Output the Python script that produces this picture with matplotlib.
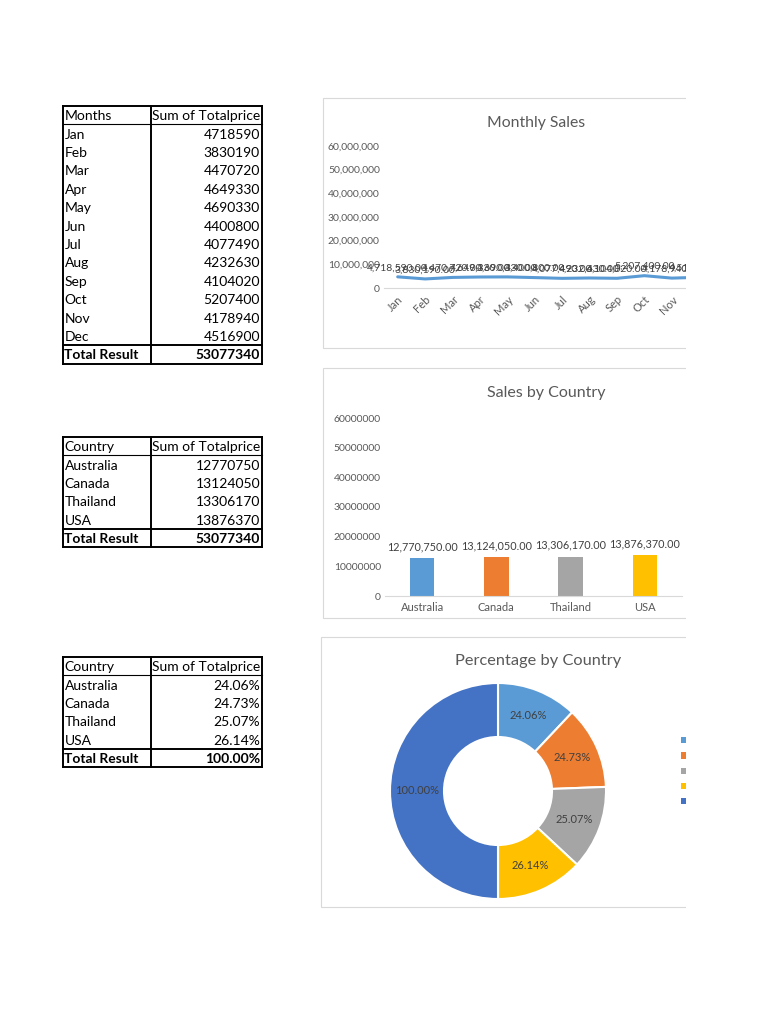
import math
import matplotlib
matplotlib.use('Agg')
import matplotlib.pyplot as plt
from matplotlib.patches import Rectangle
from matplotlib.lines import Line2D
from matplotlib.ticker import FuncFormatter

plt.rcParams['font.family'] = ['Lato', 'DejaVu Sans']

# data
months = ['Jan', 'Feb', 'Mar', 'Apr', 'May', 'Jun', 'Jul', 'Aug', 'Sep', 'Oct', 'Nov', 'Dec']
month_sales = [4718590, 3830190, 4470720, 4649330, 4690330, 4400800,
               4077490, 4232630, 4104020, 5207400, 4178940, 4516900]
month_total = 53077340
countries = ['Australia', 'Canada', 'Thailand', 'USA']
country_sales = [12770750, 13124050, 13306170, 13876370]
country_total = 53077340
country_pct = [24.06, 24.73, 25.07, 26.14]
pct_total = 100.00

bar_colors = ['#5B9BD5', '#ED7D31', '#A5A5A5', '#FFC000']
total_color = '#4472C4'
grey_txt = '#595959'
lab_txt = '#404040'

W, H = 768, 1024
fig = plt.figure(figsize=(W / 100, H / 100), dpi=100)


def fx(x):
    return x / W


def fy(y):
    return 1 - y / H


def hline(x0, x1, y, lw):
    fig.add_artist(Line2D([fx(x0), fx(x1)], [fy(y), fy(y)], color='black', lw=lw,
                          transform=fig.transFigure))


def vline(x, y0, y1, lw):
    fig.add_artist(Line2D([fx(x), fx(x)], [fy(y0), fy(y1)], color='black', lw=lw,
                          transform=fig.transFigure))


def draw_table(top, head, names, vals, total):
    rh = 18.4
    x0, xm, x1 = 63, 151, 262
    n = len(names) + 2
    bottom = top + n * rh
    hline(x0, x1, top, 1.4)
    hline(x0, x1, bottom, 1.4)
    vline(x0, top, bottom, 1.4)
    vline(x1, top, bottom, 1.4)
    vline(xm, top, bottom, 1.4)
    hline(x0, x1, top + rh, 0.8)
    hline(x0, x1, bottom - rh, 1.4)
    # header
    yc = top + 0.55 * rh
    fig.text(fx(x0 + 1.5), fy(yc), head, ha='left', va='center', fontsize=10)
    fig.text(fx(xm + 1.5), fy(yc), 'Sum of Totalprice', ha='left', va='center', fontsize=10)
    rows = [(a, b, 'normal') for a, b in zip(names, vals)]
    rows.append(('Total Result', total, 'bold'))
    for i, (a, b, w) in enumerate(rows, start=1):
        yc = top + (i + 0.55) * rh
        fig.text(fx(x0 + 1.5), fy(yc), a, ha='left', va='center', fontsize=10, weight=w)
        fig.text(fx(x1 - 2), fy(yc), b, ha='right', va='center', fontsize=10, weight=w)


def chart_box(x0, y0, y1):
    fig.add_artist(Rectangle((fx(x0), fy(y1)), fx(720) - fx(x0), (y1 - y0) / H, fill=False,
                             ec='#D9D9D9', lw=0.8, transform=fig.transFigure))


def style_axis(ax):
    for s in ['top', 'right', 'left']:
        ax.spines[s].set_visible(False)
    ax.spines['bottom'].set_color('#D9D9D9')
    ax.tick_params(length=0, labelsize=7.5, labelcolor=grey_txt)


# tables
draw_table(106, 'Months', months, [str(v) for v in month_sales], str(month_total))
draw_table(437, 'Country', countries, [str(v) for v in country_sales], str(country_total))
draw_table(657, 'Country', countries, ['%.2f%%' % v for v in country_pct], '%.2f%%' % pct_total)

# Monthly Sales line chart
chart_box(323, 98, 348)
fig.text(fx(536), fy(123.5), 'Monthly Sales', ha='center', va='center', fontsize=11.3,
         color=grey_txt)
ax1 = fig.add_axes([fx(384), fy(288), (713 - 384) / W, (288 - 146) / H])
ax1.plot(range(len(months)), month_sales, color='#5B9BD5', lw=2.2, solid_capstyle='round')
ax1.set_xlim(-0.5, len(months) - 0.5)
ax1.set_ylim(0, 60000000)
ax1.set_yticks(range(0, 60000001, 10000000))
ax1.yaxis.set_major_formatter(FuncFormatter(lambda v, p: f'{int(v):,}'))
ax1.set_xticks(range(len(months)))
ax1.set_xticklabels(months, rotation=45, ha='right', va='top', rotation_mode='anchor')
style_axis(ax1)
ax1.tick_params(axis='y', pad=3)
ax1.tick_params(axis='x', pad=4, labelsize=8)
for i, v in enumerate(month_sales):
    ax1.annotate(f'{v:,.2f}', (i, v), xytext=(0, 6.5), textcoords='offset points',
                 ha='center', va='center', fontsize=7.5, color=lab_txt)

# Sales by Country bar chart
chart_box(323, 368, 618)
fig.text(fx(546), fy(392.5), 'Sales by Country', ha='center', va='center', fontsize=11.5,
         color=grey_txt)
ax2 = fig.add_axes([fx(385), fy(596), (682 - 385) / W, (596 - 418) / H])
ax2.bar(range(len(countries)), country_sales, width=0.33, color=bar_colors)
ax2.set_xlim(-0.5, len(countries) - 0.5)
ax2.set_ylim(0, 60000000)
ax2.set_yticks(range(0, 60000001, 10000000))
ax2.yaxis.set_major_formatter(FuncFormatter(lambda v, p: str(int(v))))
ax2.set_xticks(range(len(countries)))
ax2.set_xticklabels(countries)
style_axis(ax2)
ax2.tick_params(axis='y', pad=3)
ax2.tick_params(axis='x', pad=4, labelsize=8)
for i, v in enumerate(country_sales):
    ax2.annotate(f'{v:,.2f}', (i, v), xytext=(0, 8), textcoords='offset points',
                 ha='center', va='center', fontsize=7.8, color=lab_txt)

# Percentage by Country donut
chart_box(321, 637, 907)
fig.text(fx(538), fy(661.5), 'Percentage by Country', ha='center', va='center', fontsize=11.8,
         color=grey_txt)
r = 108
ax3 = fig.add_axes([fx(498 - r), fy(791 + r), 2 * r / W, 2 * r / H])
donut_vals = country_pct + [pct_total]
donut_names = countries + ['Total Result']
wedges, _ = ax3.pie(donut_vals, colors=bar_colors + [total_color], startangle=90,
                    counterclock=False, radius=1,
                    wedgeprops=dict(width=0.5, edgecolor='white', linewidth=1.5))
ax3.set_xlim(-1, 1)
ax3.set_ylim(-1, 1)
for w, v in zip(wedges, donut_vals):
    mid = math.radians((w.theta1 + w.theta2) / 2)
    ax3.text(0.75 * math.cos(mid), 0.75 * math.sin(mid), '%.2f%%' % v, ha='center', va='center',
             fontsize=8, color=lab_txt)
leg = fig.legend(wedges, donut_names, loc='center left', bbox_to_anchor=(fx(681), fy(772)),
                 frameon=False, fontsize=7.5, handlelength=0.55, handleheight=0.55,
                 handletextpad=0.6, labelspacing=0.6, borderaxespad=0, borderpad=0)
for h in leg.legend_handles:
    h.set_edgecolor('none')

# screenshot is cut on the right
fig.add_artist(Rectangle((fx(686), 0), 1, 1, facecolor='white', edgecolor='none', zorder=50,
                         transform=fig.transFigure))

fig.savefig('out.png', dpi=100)
